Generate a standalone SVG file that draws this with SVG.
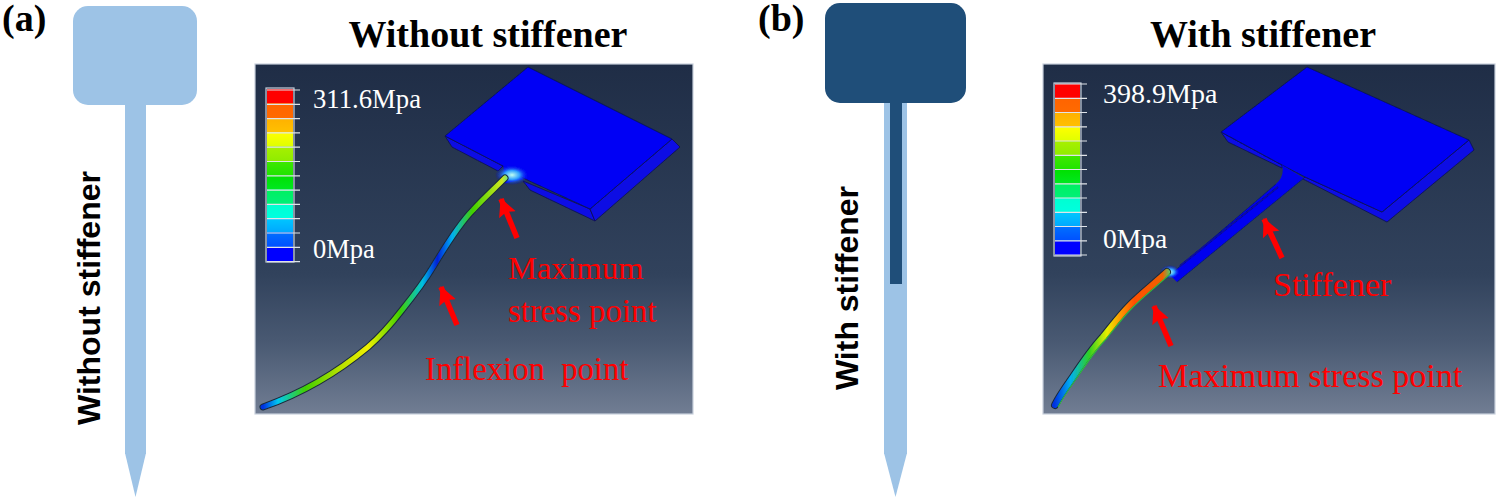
<svg xmlns="http://www.w3.org/2000/svg" width="1499" height="502" viewBox="0 0 1499 502">
<style>
.lt{fill:#9dc3e6}.dk{fill:#1f4e79}
.plate{fill:#0000f5;stroke:#0a1450;stroke-width:.8;stroke-linejoin:round}
.side{fill:#0808e4;stroke:#0a1450;stroke-width:.8;stroke-linejoin:round}
.title{font:bold 38px "Liberation Serif",serif;text-anchor:middle;fill:#000}
.tag{font:bold 38px "Liberation Serif",serif;fill:#000}
.vert{font:bold 32px "Liberation Sans",sans-serif;text-anchor:middle;fill:#000}
.val{fill:#fff;font-family:"Liberation Serif",serif}
.red{fill:#f00;font-family:"Liberation Serif",serif}
.arrow{stroke:#f00;stroke-width:5.500;fill:none;marker-end:url(#head)}
.tick{stroke:#dfe3e8;stroke-width:1.200;fill:none}
.frame{fill:none;stroke:#c8d0dc;stroke-width:1.200}
.halo{fill:none;stroke:#1a2a3a;stroke-linecap:round}
</style>
<defs>
<linearGradient id="bg" x1="0" y1="0" x2="0" y2="1"><stop offset="0" stop-color="#1f2d46"/><stop offset=".6" stop-color="#31425c"/><stop offset=".8" stop-color="#4a5a73"/><stop offset="1" stop-color="#717d93"/></linearGradient>
<linearGradient id="barG" x1="0" y1="0" x2="0" y2="1">
<stop offset="0" stop-color="#f00"/><stop offset=".083" stop-color="#f00"/>
<stop offset=".083" stop-color="#ff6400"/><stop offset=".167" stop-color="#ff6a00"/>
<stop offset=".167" stop-color="#ffb000"/><stop offset=".25" stop-color="#ffc000"/>
<stop offset=".25" stop-color="#ffff00"/><stop offset=".333" stop-color="#e0ff00"/>
<stop offset=".333" stop-color="#a8f000"/><stop offset=".417" stop-color="#90ec00"/>
<stop offset=".417" stop-color="#40e800"/><stop offset=".5" stop-color="#20e400"/>
<stop offset=".5" stop-color="#00e000"/><stop offset=".583" stop-color="#00e820"/>
<stop offset=".583" stop-color="#00f060"/><stop offset=".667" stop-color="#00f078"/>
<stop offset=".667" stop-color="#00ffd0"/><stop offset=".75" stop-color="#00ffe0"/>
<stop offset=".75" stop-color="#00c8ff"/><stop offset=".833" stop-color="#00a8ff"/>
<stop offset=".833" stop-color="#0070ff"/><stop offset=".917" stop-color="#0050ff"/>
<stop offset=".917" stop-color="#0000ff"/><stop offset="1" stop-color="#0000ff"/></linearGradient>
<linearGradient id="curveA" gradientUnits="userSpaceOnUse" x1="263" y1="0" x2="512" y2="0">
<stop offset="0" stop-color="#0030e0"/><stop offset=".06" stop-color="#00c8f0"/><stop offset=".17" stop-color="#40d000"/><stop offset=".3" stop-color="#b0e000"/><stop offset=".42" stop-color="#f0f000"/><stop offset=".55" stop-color="#40d000"/><stop offset=".64" stop-color="#00c0e0"/><stop offset=".7" stop-color="#0020d8"/><stop offset=".76" stop-color="#00b0f0"/><stop offset=".84" stop-color="#40d000"/><stop offset=".96" stop-color="#d0e820"/><stop offset="1" stop-color="#20e0d0"/></linearGradient>
<linearGradient id="curveB" gradientUnits="userSpaceOnUse" x1="1054" y1="0" x2="1172" y2="0">
<stop offset="0" stop-color="#0030e0"/><stop offset=".14" stop-color="#00b0f0"/><stop offset=".3" stop-color="#30d020"/><stop offset=".45" stop-color="#e8f000"/><stop offset=".55" stop-color="#ffa000"/><stop offset=".68" stop-color="#ff5000"/><stop offset=".92" stop-color="#f06000"/><stop offset="1" stop-color="#30e080"/></linearGradient>
<radialGradient id="glow"><stop offset="0" stop-color="#c0fff0"/><stop offset=".45" stop-color="#30a0ff"/><stop offset="1" stop-color="#0000f0" stop-opacity="0"/></radialGradient>
<marker id="head" markerUnits="userSpaceOnUse" markerWidth="22" markerHeight="22" refX="17" refY="9" orient="auto"><path d="M0 0L18 9L0 18L3 9Z" fill="#f00"/></marker>
<filter id="soft" x="-5%" y="-5%" width="110%" height="110%"><feGaussianBlur stdDeviation=".5"/></filter>
</defs>

<g id="tag-a"><text class="tag" x="2" y="31">(a)</text></g>
<g id="tag-b"><text class="tag" x="758" y="31">(b)</text></g>

<g id="probe-a">
<rect class="lt" x="125" y="100" width="21" height="354"/>
<path class="lt" d="M125 453H146L135.500 497Z"/>
<rect class="lt" x="73" y="6" width="124" height="99" rx="15"/>
</g>
<text class="vert" transform="translate(100 298) rotate(-90)">Without stiffener</text>

<g id="panel-a">
<text class="title" x="488" y="47">Without stiffener</text>
<rect x="255" y="64" width="438" height="350" fill="url(#bg)" class="frame" style="fill:url(#bg)"/>
<rect x="266" y="88" width="28" height="174" class="frame"/>
<rect x="267" y="89" width="26" height="172" fill="url(#barG)"/>
<path class="tick" d="M267 90H300M267 104.300H300M267 118.600H300M267 132.900H300M267 147.200H300M267 161.500H300M267 175.800H300M267 190.100H300M267 204.400H300M267 218.700H300M267 233H300M267 247.300H300M267 261.600H300"/>
<text class="val" font-size="26.700" x="313" y="108">311.6Mpa</text>
<text class="val" font-size="26.500" x="313" y="258">0Mpa</text>
<g filter="url(#soft)">
<path class="side" d="M445 136L452 147L498 171L503 166Z"/>
<path class="side" d="M523 181L530 190L595 221L590 209Z"/>
<path class="side" d="M590 209L595 221L680 147L672 139Z"/>
<path class="plate" d="M528 67L672 139L590 209L523 178L503 166L445 136Z"/>
<path d="M503 165Q506 176 498 184L507 183L524 179Z" fill="#0000f5"/>
<ellipse cx="512" cy="175" rx="17" ry="10" fill="url(#glow)"/>
<path class="halo" stroke-width="7" d="M263 407C300 394 338 372 368 347C382 335 392 323 402 310C414 295 424 282 433 267C442 252 458 225 473 210C483 199 493 190 505 178"/>
<path fill="none" stroke="url(#curveA)" stroke-linecap="round" stroke-width="5" d="M263 407C300 394 338 372 368 347C382 335 392 323 402 310C414 295 424 282 433 267C442 252 458 225 473 210C483 199 493 190 505 178"/>
</g>
<line class="arrow" x1="517" y1="238" x2="501" y2="199"/>
<line class="arrow" x1="457" y1="325" x2="441" y2="287"/>
<text class="red" font-size="32.500" x="508" y="279">Maximum</text>
<text class="red" font-size="32.800" x="508" y="322">stress point</text>
<text class="red" font-size="32.700" xml:space="preserve" x="425" y="380">Inflexion  point</text>
</g>

<g id="probe-b">
<rect class="lt" x="884" y="100" width="23" height="354"/>
<path class="lt" d="M884 453H907L895.500 497Z"/>
<rect class="dk" x="890" y="100" width="12" height="184"/>
<rect class="dk" x="825" y="3" width="141" height="100" rx="15"/>
</g>
<text class="vert" transform="translate(858 288) rotate(-90)">With stiffener</text>

<g id="panel-b">
<text class="title" x="1263" y="47">With stiffener</text>
<rect x="1043" y="64" width="452" height="350" class="frame" style="fill:url(#bg)"/>
<rect x="1054" y="83" width="27" height="173" class="frame"/>
<rect x="1055" y="84" width="25" height="171" fill="url(#barG)"/>
<path class="tick" d="M1055 84H1087M1055 98.300H1087M1055 112.500H1087M1055 126.800H1087M1055 141H1087M1055 155.300H1087M1055 169.500H1087M1055 183.800H1087M1055 198H1087M1055 212.300H1087M1055 226.500H1087M1055 240.800H1087M1055 255H1087"/>
<text class="val" font-size="28" x="1103" y="103">398.9Mpa</text>
<text class="val" font-size="27.500" x="1103" y="248">0Mpa</text>
<g filter="url(#soft)">
<path class="side" d="M1221 132L1228 142L1282 168L1282 165Z"/>
<path class="side" d="M1305 177L1303 179L1387 222L1474 150L1469 140L1382 212Z"/>
<path class="plate" d="M1307 67L1469 140L1382 212L1305 177L1282 165L1221 132Z"/>
<path d="M1170 275L1177 282L1304 178L1282 165Q1285 176 1276 184Z" fill="#0000f0"/>
<path d="M1170 275L1276 184M1177 282L1304 178" fill="none" stroke="#0a1a70" stroke-width=".8"/>
<path d="M1180 266L1278 187" fill="none" stroke="#0808a0" stroke-width="2"/>
<ellipse cx="1170" cy="272" rx="10" ry="7" fill="url(#glow)"/>
<path class="halo" stroke-width="8" d="M1055 405C1060 395 1066 387 1073 377C1083 362 1092 349 1103 337C1112 326 1120 315 1130 305C1142 293 1155 283 1167 272"/>
<path fill="none" stroke="#30c040" stroke-width="1.200" d="M1058 407C1063 397 1069 389 1076 379C1086 364 1095 351 1106 339C1115 328 1123 317 1133 307C1145 295 1158 285 1170 274"/>
<path fill="none" stroke="url(#curveB)" stroke-linecap="round" stroke-width="6" d="M1055 405C1060 395 1066 387 1073 377C1083 362 1092 349 1103 337C1112 326 1120 315 1130 305C1142 293 1155 283 1167 272"/>
</g>
<line class="arrow" x1="1282" y1="258" x2="1264" y2="219"/>
<line class="arrow" x1="1171" y1="346" x2="1154" y2="306"/>
<text class="red" font-size="34" x="1273" y="296">Stiffener</text>
<text class="red" font-size="34" x="1158" y="387">Maximum stress point</text>
</g>
</svg>
